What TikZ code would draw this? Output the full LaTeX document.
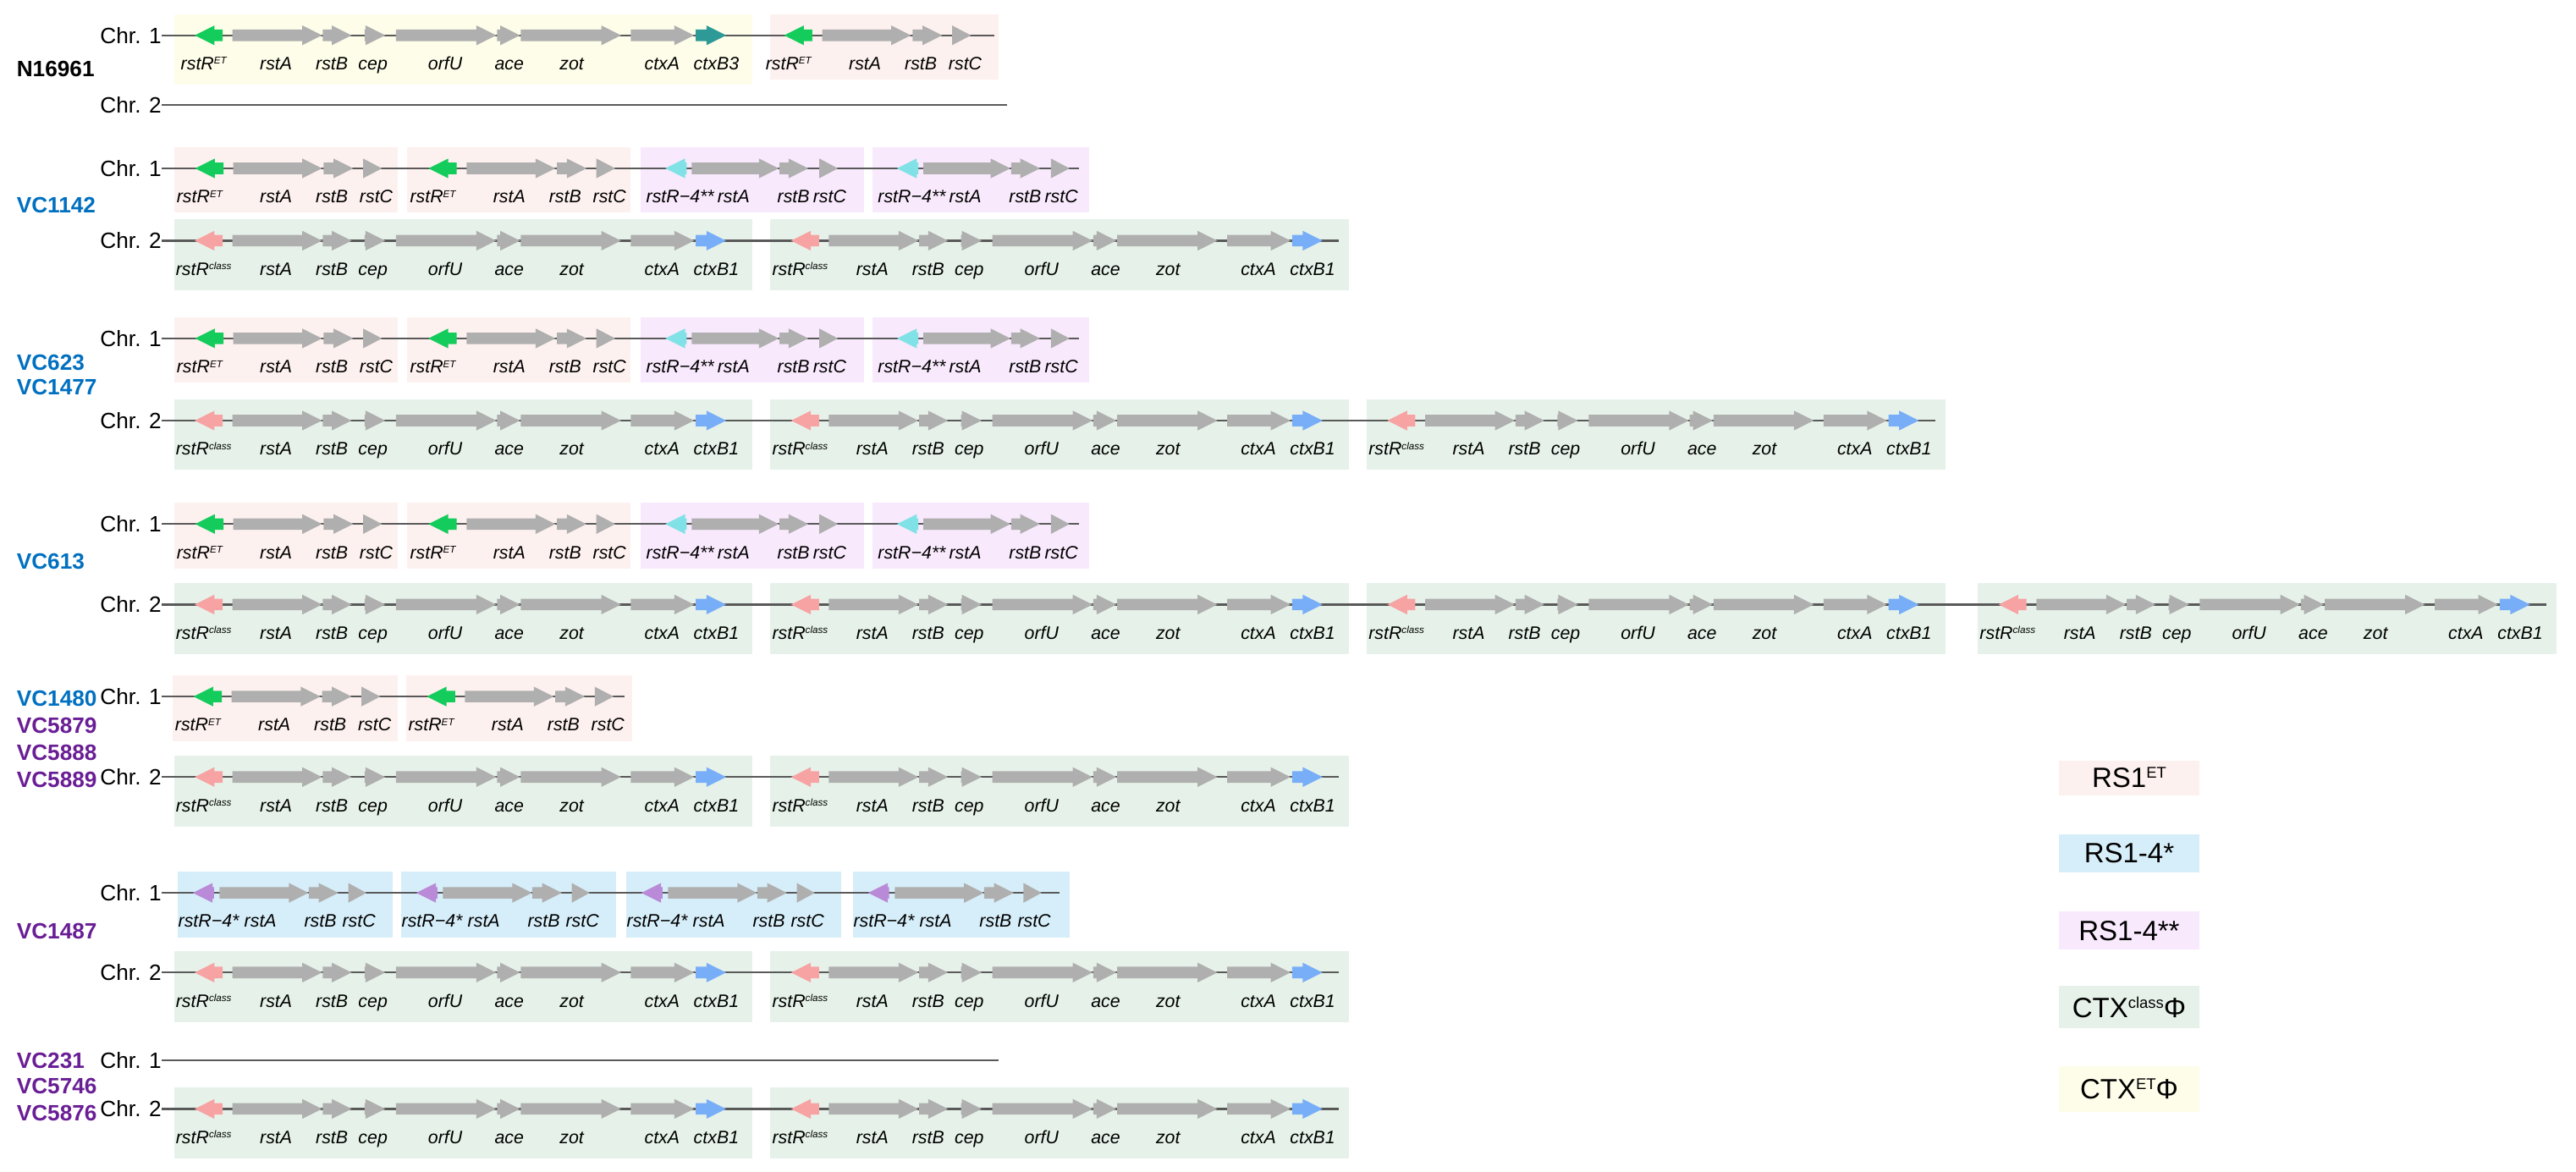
\documentclass[tikz,border=0pt]{standalone}
\usepackage{fontspec}
\setmainfont{Liberation Sans}
\pgfdeclarelayer{bg}
\pgfsetlayers{bg,main}
\definecolor{boxET}{HTML}{FDF1EF}
\definecolor{boxCTXET}{HTML}{FEFDE9}
\definecolor{boxCTX}{HTML}{E6F2E9}
\definecolor{boxFour}{HTML}{D6EEF9}
\definecolor{boxFourFour}{HTML}{F8E9FC}
\definecolor{geneGray}{HTML}{AFAFAF}
\definecolor{geneGreen}{HTML}{14CC5C}
\definecolor{geneTeal}{HTML}{2E9A98}
\definecolor{genePink}{HTML}{F7A3A3}
\definecolor{geneBlue}{HTML}{78AEF7}
\definecolor{geneCyan}{HTML}{80E2E6}
\definecolor{geneLav}{HTML}{B98AD8}
\definecolor{chrLine}{HTML}{595959}
\definecolor{strainBlue}{HTML}{0070C0}
\definecolor{strainPurple}{HTML}{6A1E96}
\tikzset{
  chrline/.style={draw=chrLine, line width=1.2pt},
  chrlab/.style={anchor=east, inner sep=0pt, font=\fontsize{13.5}{14}\selectfont, text=black},
  strainlab/.style={anchor=west, inner sep=0pt, font=\fontsize{13.5}{14}\selectfont\bfseries},
  genelab/.style={anchor=base, inner sep=0pt, font=\fontsize{11}{12}\selectfont\itshape, text=black},
  legbox/.style={inner sep=0pt, minimum width=86pt, font=\fontsize{17}{18}\selectfont, text=black},
}
\newcommand{\gsup}[1]{\raisebox{3.4pt}{\fontsize{6}{6}\selectfont #1}}
\newcommand{\lsup}[1]{\raisebox{5.6pt}{\fontsize{9.5}{9.5}\selectfont #1}}
% right-pointing gene: start, tip, y, colour
\newcommand{\geneR}[4]{%
  \pgfmathsetmacro{\gHx}{max(#1,#2-12)}%
  \fill[#4] (#1,#3-3.5) -- (\gHx,#3-3.5) -- (\gHx,#3-6) -- (#2,#3) -- (\gHx,#3+6) -- (\gHx,#3+3.5) -- (#1,#3+3.5) -- cycle;}
% left-pointing gene: tip, end, y, colour
\newcommand{\geneL}[4]{%
  \pgfmathsetmacro{\gHx}{min(#2,#1+12)}%
  \fill[#4] (#2,#3-3.5) -- (\gHx,#3-3.5) -- (\gHx,#3-6) -- (#1,#3) -- (\gHx,#3+6) -- (\gHx,#3+3.5) -- (#2,#3+3.5) -- cycle;}
\newcommand{\glab}[3]{\node[genelab] at (#1,#2+21) {#3};}
% CTX element: X, Y, box colour, rstR colour, rstR sup, ctxB colour, ctxB name
\newcommand{\ctxel}[7]{%
  \begin{pgfonlayer}{bg}\fill[#3] (#1,#2-13) rectangle (#1+352,#2+30);\end{pgfonlayer}%
  \geneL{#1+12.5}{#1+29.5}{#2}{#4}%
  \geneR{#1+35.5}{#1+90}{#2}{geneGray}%
  \geneR{#1+90.5}{#1+108}{#2}{geneGray}%
  \geneR{#1+116}{#1+128.5}{#2}{geneGray}%
  \geneR{#1+135}{#1+196}{#2}{geneGray}%
  \geneR{#1+196.5}{#1+210.5}{#2}{geneGray}%
  \geneR{#1+211}{#1+272}{#2}{geneGray}%
  \geneR{#1+278}{#1+316.5}{#2}{geneGray}%
  \geneR{#1+317.5}{#1+336}{#2}{#6}%
  \glab{#1+18}{#2}{rstR\gsup{#5}}%
  \glab{#1+62}{#2}{rstA}%
  \glab{#1+96}{#2}{rstB}%
  \glab{#1+121}{#2}{cep}%
  \glab{#1+165}{#2}{orfU}%
  \glab{#1+204}{#2}{ace}%
  \glab{#1+242}{#2}{zot}%
  \glab{#1+297}{#2}{ctxA}%
  \glab{#1+330}{#2}{#7}}
% RS1-ET element: box left, box width, gene origin, Y
\newcommand{\rsET}[4]{%
  \begin{pgfonlayer}{bg}\fill[boxET] (#1,#4-13) rectangle (#1+#2,#4+27);\end{pgfonlayer}%
  \geneL{#3+12.8}{#3+30}{#4}{geneGreen}%
  \geneR{#3+36}{#3+90}{#4}{geneGray}%
  \geneR{#3+91}{#3+109}{#4}{geneGray}%
  \geneR{#3+115}{#3+126.5}{#4}{geneGray}%
  \glab{#3+15.5}{#4}{rstR\gsup{ET}}%
  \glab{#3+62}{#4}{rstA}%
  \glab{#3+96}{#4}{rstB}%
  \glab{#3+123}{#4}{rstC}}
% RS1-4** element: X, Y, width
\newcommand{\rsFF}[3]{%
  \begin{pgfonlayer}{bg}\fill[boxFourFour] (#1,#2-13) rectangle (#1+#3,#2+27);\end{pgfonlayer}%
  \geneL{#1+15}{#1+28}{#2}{geneCyan}%
  \geneR{#1+31}{#1+84}{#2}{geneGray}%
  \geneR{#1+84.5}{#1+102}{#2}{geneGray}%
  \geneR{#1+108.7}{#1+120}{#2}{geneGray}%
  \glab{#1+24}{#2}{rstR−4**}%
  \glab{#1+56.5}{#2}{rstA}%
  \glab{#1+93}{#2}{rstB}%
  \glab{#1+115}{#2}{rstC}}
% RS1-4* element: X, Y, width
\newcommand{\rsF}[3]{%
  \begin{pgfonlayer}{bg}\fill[boxFour] (#1,#2-13) rectangle (#1+#3,#2+27);\end{pgfonlayer}%
  \geneL{#1+9.4}{#1+22.2}{#2}{geneLav}%
  \geneR{#1+25.6}{#1+79.8}{#2}{geneGray}%
  \geneR{#1+80}{#1+98}{#2}{geneGray}%
  \geneR{#1+104}{#1+115}{#2}{geneGray}%
  \glab{#1+19}{#2}{rstR−4*}%
  \glab{#1+50.5}{#2}{rstA}%
  \glab{#1+87}{#2}{rstB}%
  \glab{#1+110.5}{#2}{rstC}}
\begin{document}
\begin{tikzpicture}[x=1pt,y=-1pt]
\begin{pgfonlayer}{bg}\fill[white] (0,0) rectangle (1568,713);\end{pgfonlayer}
\useasboundingbox (0,0) rectangle (1568,713);

% ---------- N16961 ----------
\node[strainlab, text=black] (sN) at (10,42) {N16961};
\node[chrlab] (cN1) at (98.5,21.5) {Chr. 1};
\coordinate (eN1) at (605,21.5);
\draw[chrline] (cN1) -- (eN1);
\ctxel{106}{21.5}{boxCTXET}{geneGreen}{ET}{geneTeal}{ctxB3}
\rsET{469}{139}{464.5}{21.5}
\node[chrlab] (cN2) at (98.5,64) {Chr. 2};
\coordinate (eN2) at (613,64);
\draw[chrline] (cN2) -- (eN2);

% ---------- VC1142 ----------
\node[strainlab, text=strainBlue] (sA) at (10,125) {VC1142};
\node[chrlab] (cA1) at (98.5,102.5) {Chr. 1};
\coordinate (eA1) at (657,102.5);
\draw[chrline] (cA1) -- (eA1);
\rsET{106}{136}{106}{102.5}
\rsET{248}{136}{248}{102.5}
\rsFF{390}{102.5}{136}
\rsFF{531}{102.5}{132}
\node[chrlab] (cA2) at (98.5,146.5) {Chr. 2};
\coordinate (eA2) at (815,146.5);
\draw[chrline] (cA2) -- (eA2);
\ctxel{106}{146.5}{boxCTX}{genePink}{class}{geneBlue}{ctxB1}
\ctxel{469}{146.5}{boxCTX}{genePink}{class}{geneBlue}{ctxB1}

% ---------- VC623 / VC1477 ----------
\node[strainlab, text=strainBlue] (sB1) at (10,220.5) {VC623};
\node[strainlab, text=strainBlue] (sB2) at (10,235.5) {VC1477};
\node[chrlab] (cB1) at (98.5,206) {Chr. 1};
\coordinate (eB1) at (657,206);
\draw[chrline] (cB1) -- (eB1);
\rsET{106}{136}{106}{206}
\rsET{248}{136}{248}{206}
\rsFF{390}{206}{136}
\rsFF{531}{206}{132}
\node[chrlab] (cB2) at (98.5,256) {Chr. 2};
\coordinate (eB2) at (1178,256);
\draw[chrline] (cB2) -- (eB2);
\ctxel{106}{256}{boxCTX}{genePink}{class}{geneBlue}{ctxB1}
\ctxel{469}{256}{boxCTX}{genePink}{class}{geneBlue}{ctxB1}
\ctxel{832}{256}{boxCTX}{genePink}{class}{geneBlue}{ctxB1}

% ---------- VC613 ----------
\node[strainlab, text=strainBlue] (sC) at (10,342) {VC613};
\node[chrlab] (cC1) at (98.5,319) {Chr. 1};
\coordinate (eC1) at (657,319);
\draw[chrline] (cC1) -- (eC1);
\rsET{106}{136}{106}{319}
\rsET{248}{136}{248}{319}
\rsFF{390}{319}{136}
\rsFF{531}{319}{132}
\node[chrlab] (cC2) at (98.5,368) {Chr. 2};
\coordinate (eC2) at (1550,368);
\draw[chrline] (cC2) -- (eC2);
\ctxel{106}{368}{boxCTX}{genePink}{class}{geneBlue}{ctxB1}
\ctxel{469}{368}{boxCTX}{genePink}{class}{geneBlue}{ctxB1}
\ctxel{832}{368}{boxCTX}{genePink}{class}{geneBlue}{ctxB1}
\ctxel{1204}{368}{boxCTX}{genePink}{class}{geneBlue}{ctxB1}

% ---------- VC1480 group ----------
\node[strainlab, text=strainBlue] (sD1) at (10,425) {VC1480};
\node[strainlab, text=strainPurple] (sD2) at (10,441.5) {VC5879};
\node[strainlab, text=strainPurple] (sD3) at (10,458) {VC5888};
\node[strainlab, text=strainPurple] (sD4) at (10,474.5) {VC5889};
\node[chrlab] (cD1) at (98.5,424) {Chr. 1};
\coordinate (eD1) at (380,424);
\draw[chrline] (cD1) -- (eD1);
\rsET{105}{137}{105}{424}
\rsET{247}{138}{247}{424}
\node[chrlab] (cD2) at (98.5,473) {Chr. 2};
\coordinate (eD2) at (815,473);
\draw[chrline] (cD2) -- (eD2);
\ctxel{106}{473}{boxCTX}{genePink}{class}{geneBlue}{ctxB1}
\ctxel{469}{473}{boxCTX}{genePink}{class}{geneBlue}{ctxB1}

% ---------- VC1487 ----------
\node[strainlab, text=strainPurple] (sE) at (10,567) {VC1487};
\node[chrlab] (cE1) at (98.5,543.5) {Chr. 1};
\coordinate (eE1) at (645,543.5);
\draw[chrline] (cE1) -- (eE1);
\rsF{108}{543.5}{131}
\rsF{244}{543.5}{131}
\rsF{381}{543.5}{131}
\rsF{519}{543.5}{132}
\node[chrlab] (cE2) at (98.5,592) {Chr. 2};
\coordinate (eE2) at (815,592);
\draw[chrline] (cE2) -- (eE2);
\ctxel{106}{592}{boxCTX}{genePink}{class}{geneBlue}{ctxB1}
\ctxel{469}{592}{boxCTX}{genePink}{class}{geneBlue}{ctxB1}

% ---------- VC231 group ----------
\node[strainlab, text=strainPurple] (sF1) at (10,645.5) {VC231};
\node[strainlab, text=strainPurple] (sF2) at (10,661) {VC5746};
\node[strainlab, text=strainPurple] (sF3) at (10,677.5) {VC5876};
\node[chrlab] (cF1) at (98.5,645.5) {Chr. 1};
\coordinate (eF1) at (608,645.5);
\draw[chrline] (cF1) -- (eF1);
\node[chrlab] (cF2) at (98.5,675) {Chr. 2};
\coordinate (eF2) at (815,675);
\draw[chrline] (cF2) -- (eF2);
\ctxel{106}{675}{boxCTX}{genePink}{class}{geneBlue}{ctxB1}
\ctxel{469}{675}{boxCTX}{genePink}{class}{geneBlue}{ctxB1}

% ---------- legend ----------
\node[legbox, fill=boxET, minimum height=21pt] (lg1) at (1296,473.5) {RS1\lsup{ET}};
\node[legbox, fill=boxFour, minimum height=23pt] (lg2) at (1296,519.5) {RS1-4*};
\node[legbox, fill=boxFourFour, minimum height=23pt] (lg3) at (1296,566.5) {RS1-4**};
\node[legbox, fill=boxCTX, minimum height=26pt] (lg4) at (1296,613) {CTX\lsup{class}Φ};
\node[legbox, fill=boxCTXET, minimum height=28pt] (lg5) at (1296,663) {CTX\lsup{ET}Φ};
\end{tikzpicture}
\end{document}
